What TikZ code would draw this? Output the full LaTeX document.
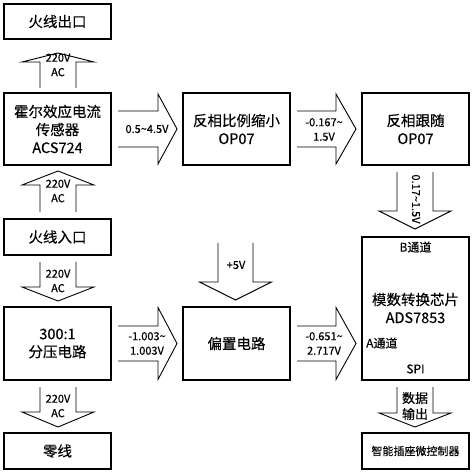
\documentclass[tikz,border=0pt]{standalone}
\usepackage{fontspec}
\setmainfont{Noto Sans CJK SC}[FakeBold=0.3]
\newfontfamily\lblfont{Noto Sans CJK SC}[FakeBold=0.6]
\begin{document}
\begin{tikzpicture}[x=1pt,y=-1pt,
  box/.style={draw, line width=1.1pt, minimum width=107pt, inner sep=0pt, align=center,
    font=\fontsize{14.5}{18}\selectfont},
  barrow/.style={draw, line width=0.9pt, line join=miter},
  lbl/.style={inner sep=0pt, align=center, font=\lblfont\fontsize{11}{14.5}\selectfont}]
\useasboundingbox (0,0) rectangle (474,473);
% boxes
\node[box, minimum height=35pt] (out) at (57.5,21.5) {火线出口};
\node[box, minimum height=72pt] (hall) at (57.5,129) {霍尔效应电流\\传感器\\ACS724};
\node[box, minimum height=72pt] (inv) at (236.5,129) {反相比例缩小\\OP07};
\node[box, minimum height=72pt] (fol) at (415.5,129) {反相跟随\\OP07};
\node[box, minimum height=36pt] (in) at (57.5,237) {火线入口};
\node[box, minimum height=73pt] (div) at (57.5,343.5) {300:1\\分压电路};
\node[box, minimum height=73pt] (bias) at (236.5,343.5) {偏置电路};
\node[box, minimum height=143pt] (adc) at (415.5,308.5) {};
\node[box, minimum height=36pt] (zero) at (57.5,451) {零线};
\node[box, minimum height=36pt, font=\fontsize{11}{13}\selectfont] (mcu) at (415.5,451) {智能插座微控制器};
% texts in ADC box
\node[inner sep=0pt, font=\fontsize{12}{13}\selectfont] (bch) at (415.5,247) {B通道};
\node[inner sep=0pt, align=center, font=\fontsize{14.5}{18}\selectfont] (adct) at (415.5,308) {模数转换芯片\\ADS7853};
\node[inner sep=0pt, anchor=west, font=\fontsize{12}{13}\selectfont] (ach) at (366,343) {A通道};
\node[inner sep=0pt, font=\fontsize{12}{13}\selectfont] (spi) at (415.5,369) {SPI};
% block arrows: (centre, tail, base, tip, shaft half, head half)
\newcommand\varrow[6]{\draw[barrow] ({#1-#5},#2) -- ({#1-#5},#3) -- ({#1-#6},#3) -- (#1,#4) -- ({#1+#6},#3) -- ({#1+#5},#3) -- ({#1+#5},#2);}
\newcommand\harrow[6]{\draw[barrow] (#2,{#1-#5}) -- (#3,{#1-#5}) -- (#3,{#1-#6}) -- (#4,#1) -- (#3,{#1+#6}) -- (#3,{#1+#5}) -- (#2,{#1+#5});}
\varrow{58}{88}{62}{53}{18}{36}
\node[lbl] (l1) at (58,65) {220V\\AC};
\varrow{58}{212}{185}{171}{18}{36}
\node[lbl] (l2) at (58,191) {220V\\AC};
\varrow{58}{262}{287}{301}{18}{36}
\node[lbl] (l3) at (58,281) {220V\\AC};
\varrow{58}{387}{412}{427}{18}{36}
\node[lbl] (l4) at (58,406) {220V\\AC};
\harrow{129}{118}{158}{177}{18}{35}
\node[lbl] (l5) at (147,129) {0.5\textasciitilde4.5V};
\harrow{129}{297}{336}{356}{18}{35}
\node[lbl] (l6) at (324,129.5) {-0.167\textasciitilde\\1.5V};
\varrow{415}{172}{211}{229}{18}{36}
\node[lbl, rotate=-90] (l7) at (416,199) {0.17\textasciitilde1.5V};
\varrow{235.5}{243}{282}{300}{17.5}{36}
\node[lbl] (l8) at (236,265) {+5V};
\harrow{343.5}{118}{158}{177}{17.5}{36}
\node[lbl] (l9) at (147,343.5) {-1.003\textasciitilde\\1.003V};
\harrow{343.5}{297}{336}{356}{17.5}{36}
\node[lbl] (l10) at (324,343.5) {-0.651\textasciitilde\\2.717V};
\varrow{415}{387}{413}{427}{18}{36}
\node[inner sep=0pt, align=center, font=\fontsize{13}{16}\selectfont] (l11) at (415,406) {数据\\输出};
\end{tikzpicture}
\end{document}
